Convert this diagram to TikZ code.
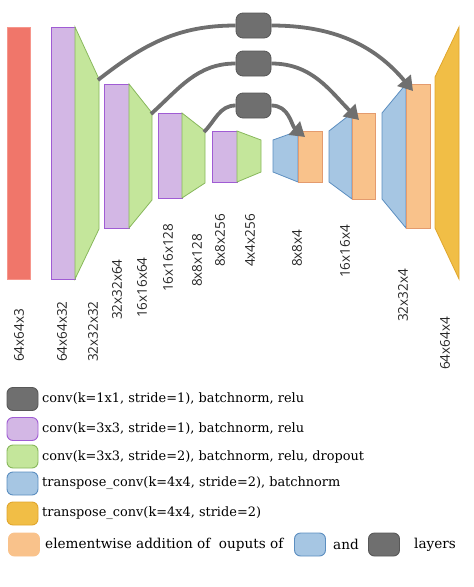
\documentclass[tikz,border=0pt]{standalone}
\usepackage{fontspec}
\setmainfont{DejaVu Serif}
\newfontfamily\labfont{Open Sans}
\usetikzlibrary{arrows.meta}
\definecolor{cred}{RGB}{240,118,106}
\definecolor{credb}{RGB}{246,150,140}
\definecolor{cpur}{RGB}{211,183,229}
\definecolor{cpurb}{RGB}{160,92,212}
\definecolor{cgre}{RGB}{196,230,155}
\definecolor{cgreb}{RGB}{136,184,92}
\definecolor{cblu}{RGB}{166,198,227}
\definecolor{cblub}{RGB}{92,142,192}
\definecolor{cora}{RGB}{249,194,139}
\definecolor{corab}{RGB}{228,155,110}
\definecolor{cyel}{RGB}{241,190,70}
\definecolor{cyelb}{RGB}{224,166,45}
\definecolor{cgry}{RGB}{111,111,111}
\definecolor{cgryb}{RGB}{88,88,88}
\tikzset{
  redl/.style={fill=cred,draw=credb,line width=0.8pt},
  purl/.style={fill=cpur,draw=cpurb,line width=0.8pt},
  grel/.style={fill=cgre,draw=cgreb,line width=0.8pt},
  blul/.style={fill=cblu,draw=cblub,line width=0.8pt},
  oral/.style={fill=cora,draw=corab,line width=0.8pt},
  yell/.style={fill=cyel,draw=cyelb,line width=0.8pt},
  gbox/.style={fill=cgry,draw=cgryb,line width=0.8pt,rounded corners=7pt,minimum width=35pt,minimum height=25pt,inner sep=0pt},
  skip/.style={draw=cgry,line width=3.8pt},
  skiparr/.style={draw=cgry,line width=3.8pt,-{Triangle[length=14pt,width=17pt]}},
  dimlab/.style={rotate=90,anchor=west,inner sep=0pt,font=\labfont\fontsize{13.5}{14}\selectfont,text=black!85},
  legbox/.style={rounded corners=6pt,minimum width=31pt,minimum height=23pt,inner sep=0pt,line width=0.9pt},
  legtxt/.style={anchor=west,inner sep=0pt,font=\fontsize{12.9}{15}\selectfont,text=black},
  legtxtb/.style={anchor=west,inner sep=0pt,font=\fontsize{13.6}{15}\selectfont,text=black}
}
\begin{document}
\begin{tikzpicture}[x=1pt,y=-1pt]
\useasboundingbox (0,0) rectangle (474,587);
% encoder
\draw[redl] (7,27) rectangle (30,279);
\draw[purl] (51,27) rectangle (75,279);
\draw[grel] (75,27) -- (99,79) -- (99,229) -- (75,279) -- cycle;
\draw[purl] (104,84) rectangle (129,228);
\draw[grel] (129,84) -- (152,113) -- (152,200) -- (129,228) -- cycle;
\draw[purl] (158,113) rectangle (182,198);
\draw[grel] (182,113) -- (205,131) -- (205,183) -- (182,198) -- cycle;
\draw[purl] (212,131) rectangle (237,182);
\draw[grel] (237,131) -- (261,140) -- (261,172) -- (237,182) -- cycle;
% decoder
\draw[blul] (273,140) -- (298,131) -- (298,182) -- (273,172) -- cycle;
\draw[oral] (298,131) rectangle (322,182);
\draw[blul] (329,131) -- (352,113) -- (352,199) -- (329,182) -- cycle;
\draw[oral] (352,113) rectangle (375,199);
\draw[blul] (382,113) -- (406,84) -- (406,228) -- (382,199) -- cycle;
\draw[oral] (406,84) rectangle (430,228);
\draw[yell] (435,77) -- (459,27) -- (459,279) -- (435,228) -- cycle;
% skip endpoints
\coordinate (s1) at (98,80);
\coordinate (s2) at (151,114);
\coordinate (s3) at (204,132);
\coordinate (t1) at (413,91);
\coordinate (t2) at (359,120);
\coordinate (t3) at (305,137);
\node[gbox] (g1) at (253.5,25.5) {};
\node[gbox] (g2) at (253.5,63.5) {};
\node[gbox] (g3) at (253.5,105.5) {};
\draw[skip] (s1) to[out=38,in=180] (g1.west);
\draw[skip] (s2) to[out=42,in=180] (g2.west);
\draw[skip] (s3) to[out=45,in=180] (g3.west);
\draw[skiparr] (g1.east) to[out=0,in=130] (t1);
\draw[skiparr] (g2.east) to[out=0,in=135] (t2);
\draw[skiparr] (g3.east) to[out=0,in=140] (t3);
% dimension labels
\node[dimlab] (d1) at (19,362) {64x64x3};
\node[dimlab] (d2) at (62,362) {64x64x32};
\node[dimlab] (d3) at (93,362) {32x32x32};
\node[dimlab] (d4) at (117,320) {32x32x64};
\node[dimlab] (d5) at (142,318) {16x16x64};
\node[dimlab] (d6) at (168,292) {16x16x128};
\node[dimlab] (d7) at (197,287) {8x8x128};
\node[dimlab] (d8) at (220,267) {8x8x256};
\node[dimlab] (d9) at (250,267) {4x4x256};
\node[dimlab] (d10) at (297,267) {8x8x4};
\node[dimlab] (d11) at (345,278) {16x16x4};
\node[dimlab] (d12) at (403,322) {32x32x4};
\node[dimlab] (d13) at (445,370) {64x64x4};
% legend
\node[legbox,fill=cgry,draw=cgryb] (l1) at (22.5,399) {};
\node[legtxt] (lt1) at (42,399) {conv(k=1x1, stride=1), batchnorm, relu};
\node[legbox,fill=cpur,draw=cpurb] (l2) at (22.5,429) {};
\node[legtxt] (lt2) at (42,429) {conv(k=3x3, stride=1), batchnorm, relu};
\node[legbox,fill=cgre,draw=cgreb] (l3) at (22.5,456.5) {};
\node[legtxt] (lt3) at (42,456.5) {conv(k=3x3, stride=2), batchnorm, relu, dropout};
\node[legbox,fill=cblu,draw=cblub] (l4) at (22.5,483.5) {};
\node[legtxt] (lt4) at (42,483.5) {transpose\_conv(k=4x4, stride=2), batchnorm};
\node[legbox,fill=cyel,draw=cyelb] (l5) at (22.5,513.5) {};
\node[legtxt] (lt5) at (42,513.5) {transpose\_conv(k=4x4, stride=2)};
\node[legbox,fill=cora,draw=cora] (l6) at (24,544.5) {};
\node[legtxtb] (lt6) at (45,544.5) {elementwise addition of\ \ ouputs of};
\node[legbox,fill=cblu,draw=cblub] (l7) at (310,544.5) {};
\node[legtxtb] (lt7) at (333,544.5) {and};
\node[legbox,fill=cgry,draw=cgryb] (l8) at (384,544.5) {};
\node[legtxtb] (lt8) at (414,544.5) {layers};
\end{tikzpicture}
\end{document}
